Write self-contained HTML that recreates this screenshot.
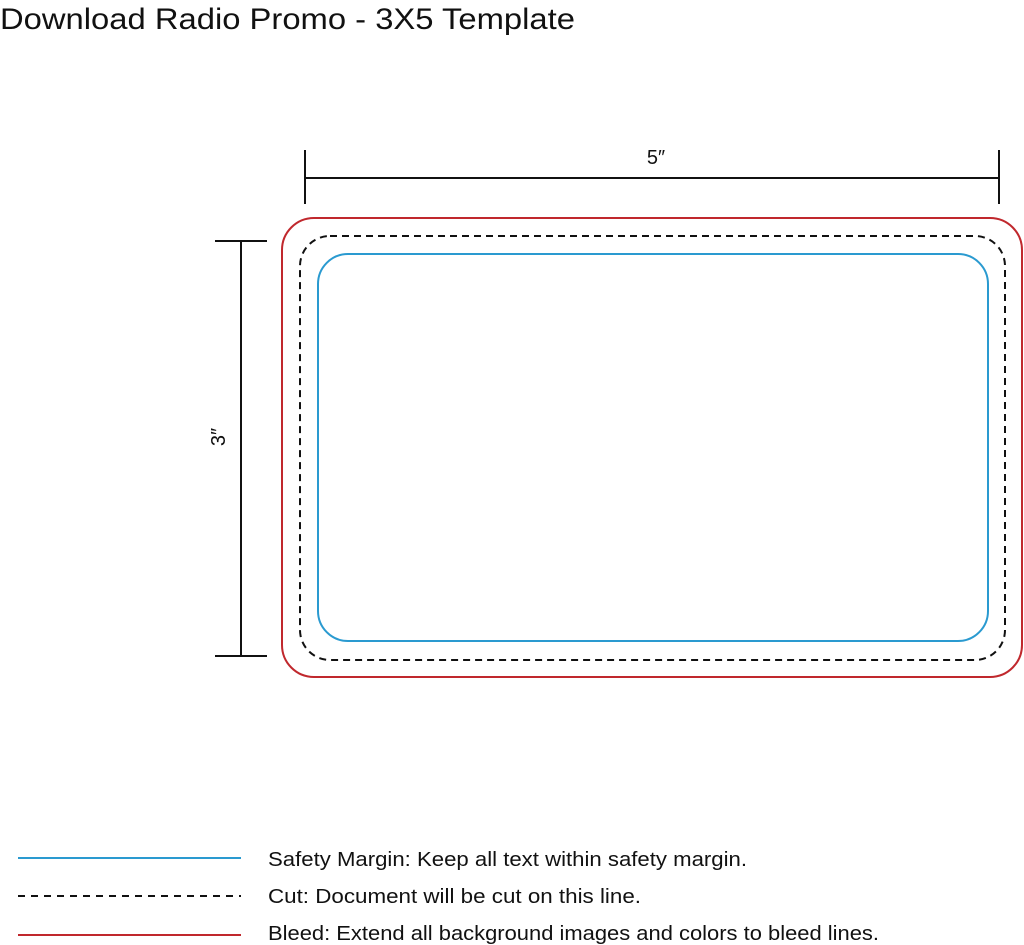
<!DOCTYPE html>
<html><head><style>
body{margin:0;width:1024px;height:945px;background:#fff;overflow:hidden;font-family:"Liberation Sans",sans-serif;}
</style></head><body>
<svg width="1024" height="945" xmlns="http://www.w3.org/2000/svg" style="position:absolute;left:0;top:0">
<text x="0" y="29" font-size="30" fill="#111" textLength="575" lengthAdjust="spacingAndGlyphs">Download Radio Promo - 3X5 Template</text>
<g stroke="#111" stroke-width="2" fill="none">
<line x1="305" y1="150" x2="305" y2="204"/>
<line x1="999" y1="150" x2="999" y2="204"/>
<line x1="305" y1="178" x2="999" y2="178"/>
<line x1="215" y1="241" x2="267" y2="241"/>
<line x1="215" y1="656" x2="267" y2="656"/>
<line x1="241" y1="241" x2="241" y2="656"/>
</g>
<text x="656" y="164" font-size="20" text-anchor="middle" fill="#111">5″</text>
<text x="0" y="0" font-size="20" text-anchor="middle" fill="#111" transform="translate(225,437) rotate(-90)">3″</text>
<rect x="282" y="218" width="740" height="459" rx="32" fill="none" stroke="#c0282d" stroke-width="2"/>
<rect x="300" y="236" width="705" height="424" rx="30" fill="none" stroke="#111" stroke-width="2" stroke-dasharray="7,5"/>
<rect x="318" y="254" width="670" height="387" rx="30" fill="none" stroke="#2a9ad0" stroke-width="2"/>
<line x1="18" y1="858" x2="241" y2="858" stroke="#2a9ad0" stroke-width="2"/>
<line x1="18" y1="896" x2="241" y2="896" stroke="#111" stroke-width="2" stroke-dasharray="7,6"/>
<line x1="18" y1="935" x2="241" y2="935" stroke="#c0282d" stroke-width="2"/>
<g font-size="20" fill="#111">
<text x="268" y="866" textLength="479" lengthAdjust="spacingAndGlyphs">Safety Margin:  Keep all text within safety margin.</text>
<text x="268" y="903" textLength="373" lengthAdjust="spacingAndGlyphs">Cut:  Document will be cut on this line.</text>
<text x="268" y="940" textLength="611" lengthAdjust="spacingAndGlyphs">Bleed:  Extend all background images and colors to bleed lines.</text>
</g>
</svg>
</body></html>
